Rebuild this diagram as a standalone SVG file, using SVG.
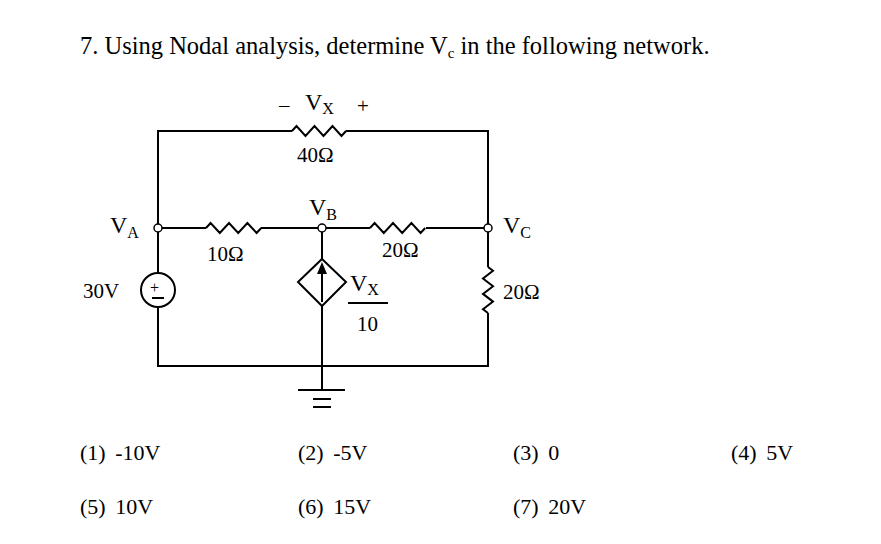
<svg xmlns="http://www.w3.org/2000/svg" width="881" height="544" viewBox="0 0 881 544">
<style>
text{font-family:"Liberation Serif",serif;font-size:21px;fill:#000}
.w{fill:none;stroke:#000;stroke-width:2}
.s{font-size:16px}
.big{font-size:24px}
.ans{font-size:22px;word-spacing:4px}
</style>
<rect width="881" height="544" fill="#fff"/>
<text x="80" y="54" style="font-size:24.5px">7. Using Nodal analysis, determine V<tspan style="font-size:15px" dy="4">c</tspan><tspan dy="-4"> in the following network.</tspan></text>
<g id="connectors">
<path class="w" d="M292,131 H158 V272 M158,308 V366 H488 V313 M488,267 V131 H346"/>
<path class="w" d="M162,228 H206 M261,228 H318 M326,228 H370 M426,228 H484"/>
<path class="w" d="M322,232 V259 M322,306 V390"/>
</g>
<g id="r40"><path class="w" d="M292,131 l4.5,-5 l9,10 l9,-10 l9,10 l9,-10 l9,10 l4.5,-5"/><text x="297" y="162">40Ω</text></g>
<g id="r10"><path class="w" d="M206,228 l4.6,-5 l9.2,10 l9.2,-10 l9.2,10 l9.2,-10 l9.2,10 l4.6,-5"/><text x="207" y="261">10Ω</text></g>
<g id="r20h"><path class="w" d="M370,228 l4.6,-5 l9.2,10 l9.2,-10 l9.2,10 l9.2,-10 l9.2,10 l4.6,-5"/><text x="382" y="257">20Ω</text></g>
<g id="r20v"><path class="w" d="M488,267 l5,3.8 l-10,7.7 l10,7.7 l-10,7.7 l10,7.7 l-10,7.7 l5,3.7"/><text x="503" y="299">20Ω</text></g>
<g id="vs"><circle class="w" cx="158" cy="290" r="17"/><text x="150" y="293" style="font-size:16px">+</text><path class="w" d="M152,298 H164"/><text x="83" y="298">30V</text></g>
<g id="dep"><path class="w" d="M322,259 L346,282 L322,306 L298,282 Z"/><path class="w" d="M322,302 V272"/><path d="M322,262 l-5,12 h10 z"/>
<text x="350" y="291" class="big">V<tspan class="s" dy="4">X</tspan></text><path class="w" d="M348,303 H388"/><text x="357" y="331">10</text></g>
<g id="gnd"><path class="w" d="M298,390 H345 M313,399 H331 M313,407 H331"/></g>
<g id="nA"><circle cx="158" cy="228" r="4" fill="#fff" stroke="#000" stroke-width="1.5"/><text x="110" y="233" class="big">V<tspan class="s" dy="5">A</tspan></text></g>
<g id="nB"><circle cx="322" cy="228" r="4" fill="#fff" stroke="#000" stroke-width="1.5"/><text x="309" y="215" class="big">V<tspan class="s" dy="5">B</tspan></text></g>
<g id="nC"><circle cx="488" cy="228" r="4" fill="#fff" stroke="#000" stroke-width="1.5"/><text x="503" y="233" class="big">V<tspan class="s" dy="5">C</tspan></text></g>
<text x="279" y="112">–</text><text x="305" y="110" class="big">V<tspan class="s" dy="4">X</tspan></text><text x="357" y="113">+</text>
<g id="answers" class="ans">
<text x="80" y="460" class="ans">(1) -10V</text><text x="298" y="460" class="ans">(2) -5V</text><text x="513" y="460" class="ans">(3) 0</text><text x="731" y="460" class="ans">(4) 5V</text>
<text x="80" y="514" class="ans">(5) 10V</text><text x="298" y="514" class="ans">(6) 15V</text><text x="513" y="514" class="ans">(7) 20V</text>
</g>
</svg>
